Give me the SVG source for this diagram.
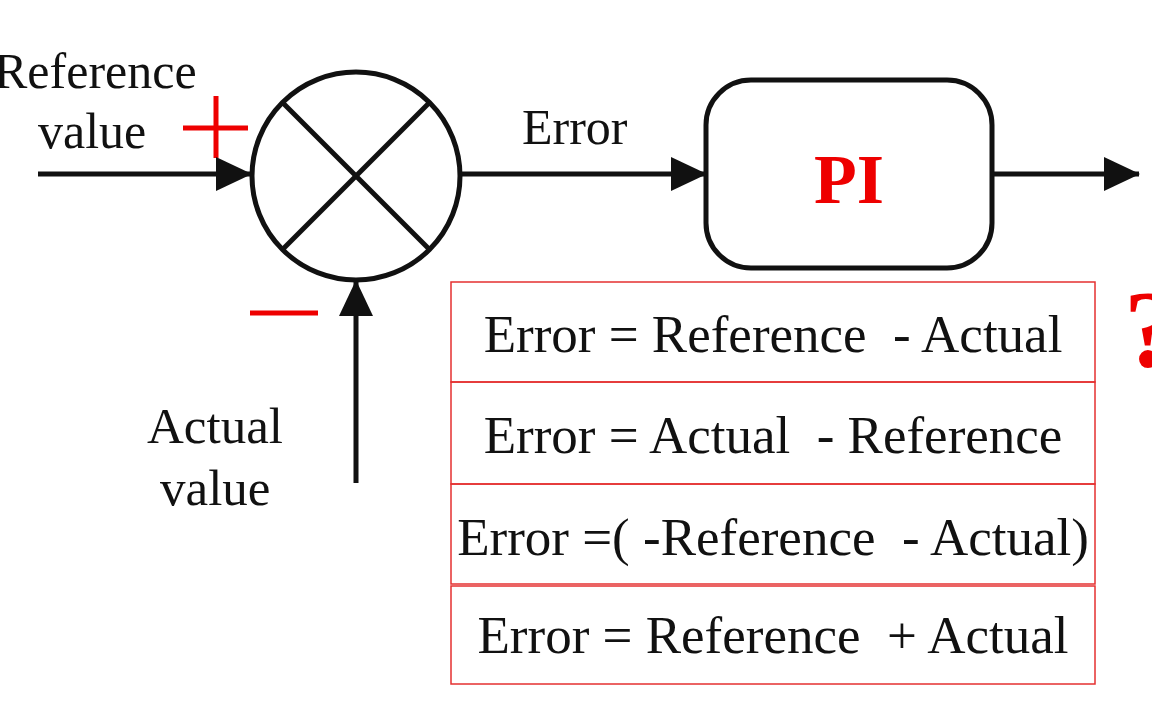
<svg xmlns="http://www.w3.org/2000/svg" width="1152" height="720" viewBox="0 0 1152 720">
<style>
.t{font-family:"Liberation Serif",serif;font-size:53px;fill:#111}
.ln{stroke:#111;stroke-width:5;fill:none}
.red{stroke:#e00;stroke-width:5;fill:none}
.row{fill:none;stroke:#e53030;stroke-width:1.5}
</style>
<defs>
<marker id="a" viewBox="0 0 36 34" refX="35" refY="17" markerWidth="36" markerHeight="34" markerUnits="userSpaceOnUse" orient="auto"><path d="M0,0L36,17L0,34z" fill="#111"/></marker></defs>
<rect width="1152" height="720" fill="#fff"/>
<g id="sum"><circle cx="356" cy="176" r="104" class="ln"/>
<line x1="282" y1="102" x2="430" y2="250" class="ln"/><line x1="430" y1="102" x2="282" y2="250" class="ln"/>
<line x1="183" y1="128" x2="248" y2="128" class="red"/><line x1="216" y1="96" x2="216" y2="158" class="red"/>
<line x1="250" y1="313" x2="318" y2="313" class="red"/></g>
<g id="pi"><rect x="706" y="80" width="286" height="188" rx="45" class="ln"/>
<text x="849" y="203" text-anchor="middle" style="font-family:'Liberation Serif',serif;font-size:70px;font-weight:bold;fill:#e00">PI</text></g>
<g id="labels"><text class="t" x="-6" y="88" style="font-size:50px">Reference</text><text class="t" x="38" y="148" style="font-size:50px">value</text>
<text class="t" x="147" y="443" style="font-size:51px">Actual</text><text class="t" x="160" y="505" style="font-size:51px">value</text>
<text class="t" x="522" y="144" style="font-size:50px">Error</text></g>
<g id="connectors">
<line x1="38" y1="174" x2="251" y2="174" class="ln" marker-end="url(#a)"/>
<line x1="356" y1="483" x2="356" y2="281" class="ln" marker-end="url(#a)"/>
<line x1="461" y1="174" x2="706" y2="174" class="ln" marker-end="url(#a)"/>
<line x1="992" y1="174" x2="1139" y2="174" class="ln" marker-end="url(#a)"/>
</g>
<g id="table">
<rect class="row" x="451" y="282" width="644" height="100"/>
<rect class="row" x="451" y="382" width="644" height="102"/>
<rect class="row" x="451" y="484" width="644" height="100"/>
<rect class="row" x="451" y="586" width="644" height="98"/>
<text class="t" x="773" y="352" text-anchor="middle" xml:space="preserve">Error = Reference  - Actual</text>
<text class="t" x="773" y="453" text-anchor="middle" xml:space="preserve">Error = Actual  - Reference</text>
<text class="t" x="773" y="555" text-anchor="middle" xml:space="preserve">Error =( -Reference  - Actual)</text>
<text class="t" x="773" y="653" text-anchor="middle" xml:space="preserve">Error = Reference  + Actual</text>
</g>
<text x="1124" y="366" style="font-family:'Liberation Serif',serif;font-size:110px;font-weight:bold;fill:#e00">?</text>
</svg>
